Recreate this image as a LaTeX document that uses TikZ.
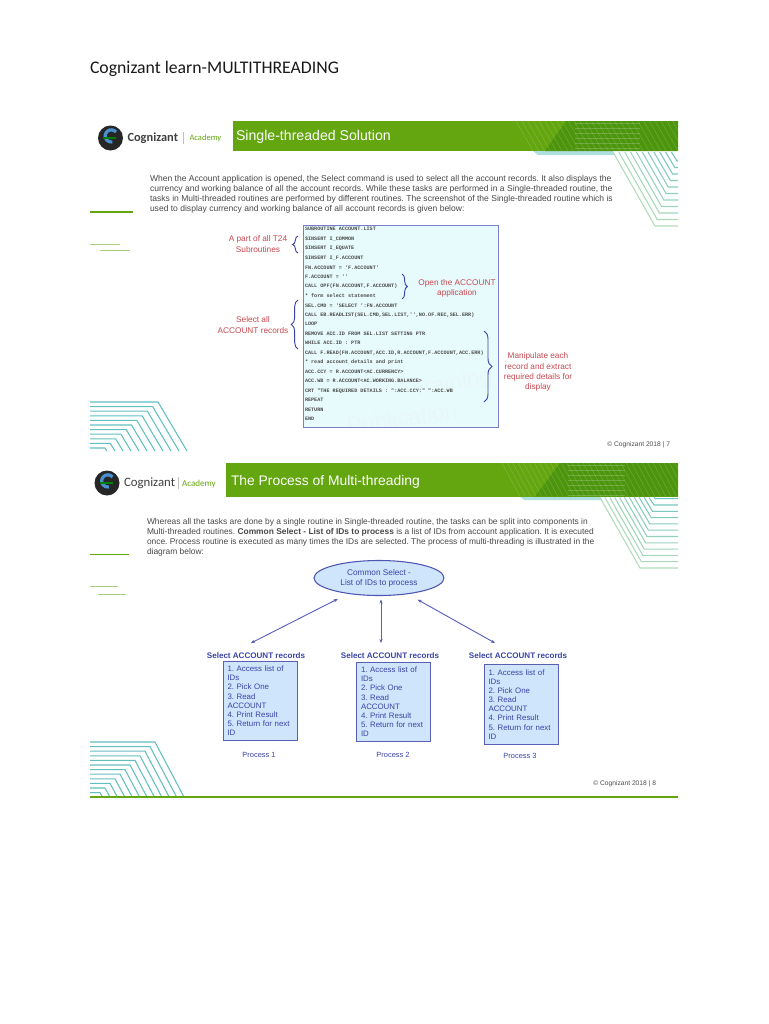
\documentclass[tikz,border=0pt]{standalone}
\usepackage{fontspec}
\setmainfont{Liberation Sans}
\setmonofont{Liberation Mono}
\newfontfamily\pagefont{Carlito}
\usetikzlibrary{positioning,arrows.meta,calc,shapes.geometric,decorations.pathreplacing}

\definecolor{headgreen}{HTML}{63A60F}
\definecolor{darkgreen}{HTML}{4C950C}
\definecolor{stripeteal}{HTML}{62BFC0}
\definecolor{paleteal}{HTML}{BFE0B8}
\definecolor{redtext}{HTML}{C8474F}
\definecolor{bluetext}{HTML}{3A43A8}
\definecolor{flowblue}{HTML}{5A60B8}
\definecolor{boxblue}{HTML}{CFE5FB}
\definecolor{codecyan}{HTML}{E8FBFC}

\begin{document}
\frenchspacing
\begin{tikzpicture}[
    x=0.75pt,y=-0.75pt,
    >={Stealth[length=3pt,width=2.5pt]},
    every node/.style={inner sep=0pt,outer sep=0pt},
    header/.style={fill=headgreen,draw=none},
    headtext/.style={anchor=west,text=white,font=\fontsize{10.6}{12}\selectfont},
    bodytext/.style={anchor=north west,align=left,text=black!72,font=\fontsize{6.4}{7.5}\selectfont},
    foot/.style={anchor=east,text=black!70,font=\fontsize{5}{6}\selectfont},
    brand/.style={anchor=west,text=black!75,font=\pagefont\bfseries\fontsize{9.3}{11}\selectfont},
    academy/.style={anchor=west,text=headgreen,font=\pagefont\fontsize{6.4}{8}\selectfont},
    redlabel/.style={align=center,text=redtext,font=\fontsize{6.2}{7.6}\selectfont},
    codeline/.style={anchor=west,text=black!70,font=\ttfamily\bfseries\fontsize{3.85}{4.5}\selectfont},
    curly/.style={draw=bluetext,line width=0.7pt,decorate},
    greenmark/.style={draw=headgreen,line width=1.2pt},
    thinmark/.style={draw=headgreen!55,line width=0.7pt},
    stripe/.style={draw=stripeteal,line width=0.8pt},
    hatch/.style={draw=white,opacity=.2,line width=0.35pt},
    logoteal/.style={draw=stripeteal!75!blue,line width=2.4pt},
    logogreen/.style={draw=green!50!black,line width=2pt},
    watermark/.style={text=stripeteal!14,font=\fontsize{17}{20}\selectfont},
    common/.style={ellipse,draw=bluetext!90,line width=0.8pt,fill=boxblue,
        minimum width=130*0.75pt,minimum height=35*0.75pt,align=center,
        text=bluetext,font=\fontsize{6.2}{7.4}\selectfont},
    steps/.style={rectangle,draw=bluetext!85,line width=0.7pt,fill=boxblue,
        minimum width=74*0.75pt,align=left,anchor=north west,
        text=bluetext,text width=65*0.75pt,inner xsep=4.5*0.75pt,inner ysep=5*0.75pt,
        font=\fontsize{5.9}{6.85}\selectfont},
    steptitle/.style={text=bluetext,font=\bfseries\fontsize{6.05}{7}\selectfont},
    proclabel/.style={text=bluetext,font=\fontsize{5.6}{7}\selectfont},
    flow/.style={<->,draw=flowblue,line width=0.7pt}
]
\useasboundingbox (0,0) rectangle (768,1024);

\node[anchor=west,text=black!90,font=\pagefont\fontsize{13.3}{16}\selectfont] (pagetitle) at (90,69) {Cognizant learn-MULTITHREADING};

% first slide
\fill[stripeteal!50] (533,151) -- (538,155) -- (615,155) -- (613,151) -- cycle;
\fill[header] (233,121) rectangle (678,151);
\begin{scope}
    \clip (233,121) rectangle (678,151);
    \fill[darkgreen] (566,121) -- (678,121) -- (678,151) -- (545,151) -- cycle;
    \foreach \i in {0,...,28}
        \draw[hatch] ({516+5.8*\i},121) -- ({533+5.8*\i},151);
    \foreach \i in {0,...,5}
        \draw[hatch] (575,{123.5+5*\i}) -- (640,{123.5+5*\i});
\end{scope}
\foreach \i [evaluate=\i as \p using 15+7*\i] in {0,...,10}
    \draw[stripe,draw=stripeteal!\p!paleteal] ({613+5.84*\i},152) -- ({655+2.2*\i},{226-6.5*\i}) -- (678,{226-6.5*\i});
\foreach \i in {0,...,10}
    \draw[stripe] (90,{402+4.6*\i}) -- ({158-5.3*\i},{402+4.6*\i}) -- ({187-8*\i},451);
\draw[greenmark] (90,212) -- (133,212);
\draw[thinmark] (90,244) -- (120,244);
\draw[thinmark] (100,250) -- (130,250);

\node[circle,fill=black!85,minimum size=25*0.75pt] (logoa) at (110.5,138) {};
\draw[logoteal] (116,132) arc[start angle=40,end angle=280,radius=4.6pt];
\draw[logogreen] (103,138) -- (116,138);
\node[brand] (brandname) at (127.5,138) {Cognizant};
\node[academy] (brandacademy) at (189.5,138.5) {Academy};
\draw[black!25,line width=0.4pt] (183,132) -- (183,144);
\node[headtext] (titlea) at (236,137) {Single-threaded Solution};

\node[bodytext] (bodya) at (150,175.5) {When the Account application is opened, the Select command is used to select all the account records. It also displays the\\
currency and working balance of all the account records. While these tasks are performed in a Single-threaded routine, the\\
tasks in Multi-threaded routines are performed by different routines. The screenshot of the Single-threaded routine which is\\
used to display currency and working balance of all account records is given below:};

\node[rectangle,draw=flowblue!80,line width=0.7pt,fill=codecyan,minimum width=195*0.75pt,minimum height=202*0.75pt,anchor=north west] (codebox) at (303,225) {};
\begin{scope}
    \clip (303.5,225.5) rectangle (497.5,426.5);
    \node[rotate=10,watermark] (marka) at (452,384) {Training};
    \node[rotate=8,watermark] (markb) at (402,418) {Publication};
\end{scope}

\foreach \n/\t [count=\k from 0] in {
    0/{SUBROUTINE ACCOUNT.LIST},
    1/{\$INSERT I\_COMMON},
    2/{\$INSERT I\_EQUATE},
    3/{\$INSERT I\_F.ACCOUNT},
    4/{FN.ACCOUNT = 'F.ACCOUNT'},
    5/{F.ACCOUNT = ''},
    6/{CALL OPF(FN.ACCOUNT,F.ACCOUNT)},
    7/{* form select statement},
    8/{SEL.CMD = 'SELECT ':FN.ACCOUNT},
    9/{CALL EB.READLIST(SEL.CMD,SEL.LIST,'',NO.OF.REC,SEL.ERR)},
    10/{LOOP},
    11/{REMOVE ACC.ID FROM SEL.LIST SETTING PTR},
    12/{WHILE ACC.ID : PTR},
    13/{CALL F.READ(FN.ACCOUNT,ACC.ID,R.ACCOUNT,F.ACCOUNT,ACC.ERR)},
    14/{* read account details and print},
    15/{ACC.CCY = R.ACCOUNT<AC.CURRENCY>},
    16/{ACC.WB = R.ACCOUNT<AC.WORKING.BALANCE>},
    17/{CRT "THE REQUIRED DETAILS : ":ACC.CCY:"   ":ACC.WB},
    18/{REPEAT},
    19/{RETURN},
    20/{END}}
    \node[codeline] (code\n) at (305,{229.3+9.5*\k}) {\t};

\coordinate (bracea1) at (298,253);
\coordinate (bracea2) at (298,236);
\coordinate (braceb1) at (402,274);
\coordinate (braceb2) at (402,299);
\coordinate (bracec1) at (298,349);
\coordinate (bracec2) at (298,300);
\coordinate (braced1) at (484,331);
\coordinate (braced2) at (484,402);
\draw[curly,decoration={brace,amplitude=4pt}] (bracea1) -- (bracea2);
\draw[curly,decoration={brace,amplitude=4pt}] (braceb1) -- (braceb2);
\draw[curly,decoration={brace,amplitude=5pt}] (bracec1) -- (bracec2);
\draw[curly,decoration={brace,amplitude=6pt}] (braced1) -- (braced2);

\node[redlabel] (labela) at (258,244) {A part of all T24\\Subroutines};
\node[redlabel] (labelb) at (457,288) {Open the ACCOUNT\\application};
\node[redlabel] (labelc) at (253,325) {Select all\\ACCOUNT records};
\node[redlabel] (labeld) at (538,372) {Manipulate each\\record and extract\\required details for\\display};

\node[foot] (foota) at (670,445) {© Cognizant 2018 | 7};

% second slide
\fill[stripeteal!50] (520,496.5) -- (524,500) -- (602,500) -- (600,496.5) -- cycle;
\fill[header] (226,463) rectangle (678,496.5);
\begin{scope}
    \clip (226,463) rectangle (678,496.5);
    \fill[darkgreen] (560,463) -- (678,463) -- (678,496.5) -- (535,496.5) -- cycle;
    \foreach \i in {0,...,32}
        \draw[hatch] ({502+5.4*\i},463) -- ({520+5.4*\i},496.5);
    \foreach \i in {0,...,6}
        \draw[hatch] (568,{465.5+5*\i}) -- (625,{465.5+5*\i});
\end{scope}
\foreach \i [evaluate=\i as \p using 15+6.5*\i] in {0,...,11}
    \draw[stripe,draw=stripeteal!\p!paleteal] ({600+4.9*\i},497.5) -- ({640+1.4*\i},{568-6.3*\i}) -- (678,{568-6.3*\i});
\foreach \i in {0,...,11}
    \draw[stripe] (90,{742+4.6*\i}) -- ({155-5*\i},{742+4.6*\i}) -- ({184-7.4*\i},797);
\draw[greenmark] (90,554.5) -- (129,554.5);
\draw[thinmark] (90,586) -- (118,586);
\draw[thinmark] (98,594) -- (126,594);
\draw[headgreen,line width=2pt] (90,797) -- (678,797);

\node[circle,fill=black!85,minimum size=25*0.75pt] (logob) at (107,483) {};
\draw[logoteal] (112.5,477) arc[start angle=40,end angle=280,radius=4.6pt];
\draw[logogreen] (99.5,483) -- (112.5,483);
\node[brand,font=\pagefont\fontsize{9.6}{11}\selectfont] (brandnameb) at (124,483) {Cognizant};
\node[academy,font=\pagefont\fontsize{6.8}{8}\selectfont] (brandacademyb) at (182,484) {Academy};
\draw[black!25,line width=0.4pt] (178,477) -- (178,489);
\node[headtext,font=\fontsize{10.4}{13}\selectfont] (titleb) at (231,481.5) {The Process of Multi-threading};

\node[bodytext,font=\fontsize{6.3}{7.5}\selectfont] (bodyb) at (147,518.5) {Whereas all the tasks are done by a single routine in Single-threaded routine, the tasks can be split into components in\\
Multi-threaded routines. \textbf{Common Select - List of IDs to process} is a list of IDs from account application. It is executed\\
once. Process routine is executed as many times the IDs are selected. The process of multi-threading is illustrated in the\\
diagram below:};

\node[common] (select) at (379,578) {Common Select -\\List of IDs to process};

\node[steps] (boxa) at (223,661) {1. Access list of\\IDs\\2. Pick One\\3. Read\\ACCOUNT\\4. Print Result\\5. Return for next\\ID};
\node[steps] (boxb) at (356.5,662) {1. Access list of\\IDs\\2. Pick One\\3. Read\\ACCOUNT\\4. Print Result\\5. Return for next\\ID};
\node[steps] (boxc) at (484,664.5) {1. Access list of\\IDs\\2. Pick One\\3. Read\\ACCOUNT\\4. Print Result\\5. Return for next\\ID};

\node[steptitle] (titleboxa) at (256,656) {Select ACCOUNT records};
\node[steptitle] (titleboxb) at (390,656) {Select ACCOUNT records};
\node[steptitle] (titleboxc) at (518,656) {Select ACCOUNT records};

\node[proclabel] (proca) at (259,755) {Process 1};
\node[proclabel] (procb) at (393,755) {Process 2};
\node[proclabel] (procc) at (520,755.5) {Process 3};

\coordinate (tipa) at (251,643);
\coordinate (tipb) at (381,643);
\coordinate (tipc) at (495,643);
\draw[flow,shorten <=9pt] (select) -- (tipa);
\draw[flow,shorten <=3pt] (select.south -| tipb) -- (tipb);
\draw[flow,shorten <=9pt] (select) -- (tipc);

\node[foot] (footb) at (656,784) {© Cognizant 2018 | 8};

\end{tikzpicture}
\end{document}
